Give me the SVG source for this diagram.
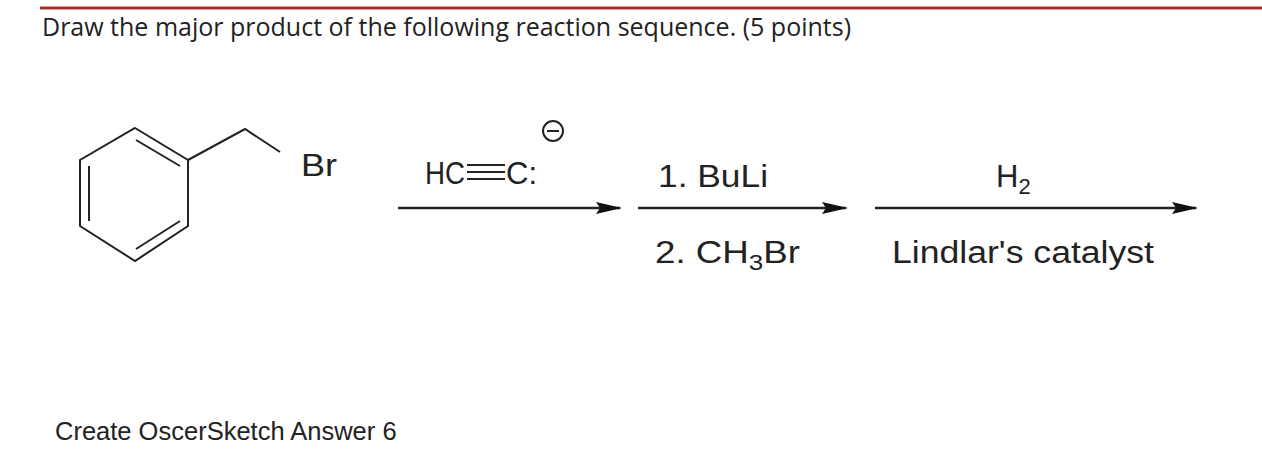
<svg xmlns="http://www.w3.org/2000/svg" width="1262" height="462" viewBox="0 0 1262 462">
<style>
.b{stroke:#222;stroke-width:2;fill:none}
.t{font-family:"Liberation Sans",Arial,sans-serif;font-size:31px;fill:#222}
.a{stroke:#222;stroke-width:2.5}
</style>
<defs>
<marker id="ah2" markerWidth="26" markerHeight="12" refX="24" refY="6" orient="auto" markerUnits="userSpaceOnUse"><path d="M0,0 L26,6 L0,12 L4,6 z" fill="#111"/></marker></defs>
<rect width="1262" height="462" fill="#fff"/>
<line x1="40" y1="8" x2="1262" y2="8" stroke="#a3302a" stroke-width="3"/>
<text x="42" y="36" font-family="'Open Sans','DejaVu Sans',sans-serif" font-size="25" fill="#222">Draw the major product of the following reaction sequence.  (5 points)</text>
<g id="benzylbromide">
<polygon class="b" points="135,128 188,160 188,226 135,261 80,226 80,160"/>
<line class="b" x1="136" y1="140" x2="180" y2="166"/>
<line class="b" x1="180" y1="221" x2="136" y2="249"/>
<line class="b" x1="89" y1="166" x2="89" y2="221"/>
<polyline class="b" points="188,160 245,129 280,152"/>
<text class="t" x="301" y="176" textLength="36" lengthAdjust="spacingAndGlyphs">Br</text>
</g>
<g id="acetylide">
<text class="t" x="425" y="184" textLength="40" lengthAdjust="spacingAndGlyphs">HC</text>
<g class="b" stroke-width="1.8"><line x1="467" y1="165" x2="505" y2="165"/><line x1="467" y1="172" x2="505" y2="172"/><line x1="467" y1="179" x2="505" y2="179"/></g>
<text class="t" x="506" y="184">C:</text>
<circle cx="553" cy="131" r="10" class="b"/>
<line class="b" x1="547" y1="131" x2="559" y2="131"/>
</g>
<g id="connectors">
<line class="a" x1="398" y1="208" x2="620" y2="208" marker-end="url(#ah2)"/>
<line class="a" x1="638" y1="208" x2="846" y2="208" marker-end="url(#ah2)"/>
<line class="a" x1="875" y1="208" x2="1196" y2="208" marker-end="url(#ah2)"/>
</g>
<g id="step2">
<text class="t" x="658" y="187" textLength="110" lengthAdjust="spacingAndGlyphs">1. BuLi</text>
<text class="t" x="655" y="263" textLength="145" lengthAdjust="spacingAndGlyphs">2. CH<tspan font-size="22" dy="7">3</tspan><tspan dy="-7">Br</tspan></text>
</g>
<g id="step3">
<text class="t" x="996" y="187">H<tspan font-size="22" dy="7">2</tspan></text>
<text class="t" x="892" y="263" textLength="262" lengthAdjust="spacingAndGlyphs">Lindlar's catalyst</text>
</g>
<text x="55" y="440" font-family="'Liberation Sans',Arial,sans-serif" font-size="25.5" fill="#222">Create OscerSketch Answer 6</text>
</svg>
